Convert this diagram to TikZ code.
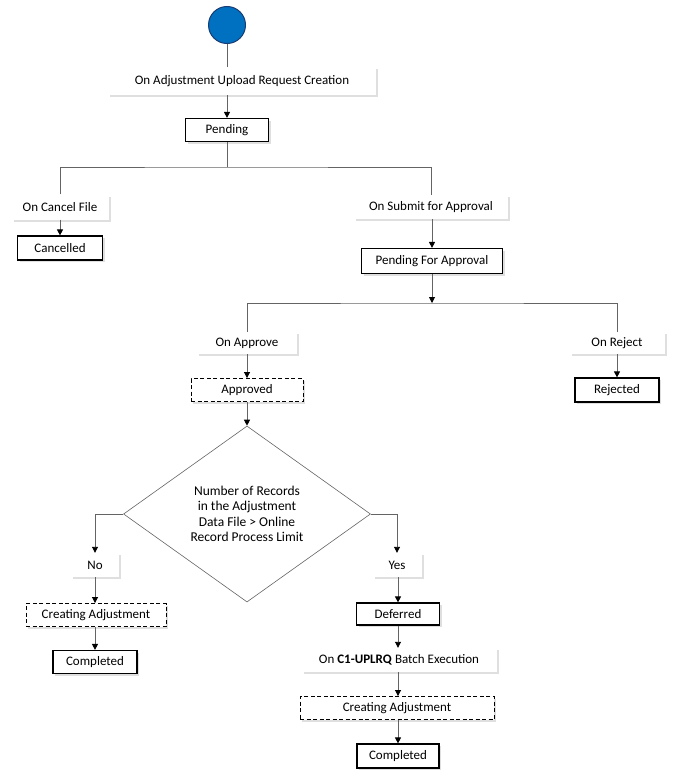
\documentclass[tikz,border=0pt]{standalone}
\usepackage{fontspec}
\setmainfont{Carlito}
\usetikzlibrary{arrows.meta,positioning,calc,shapes.geometric,shadows}
\definecolor{StartBlue}{RGB}{0,112,192}
\definecolor{StartEdge}{RGB}{25,60,115}
\definecolor{FlowGray}{RGB}{100,100,100}
\tikzset{
  basefont/.style={font=\fontsize{13}{15}\selectfont},
  softshadow/.style={drop shadow={shadow xshift=2pt,shadow yshift=-2pt,fill=black!25,opacity=0.5}},
  eventbox/.style={basefont,fill=white,draw=none,inner sep=0pt,softshadow},
  statebox/.style={basefont,fill=white,draw=black,line width=1.2pt,inner sep=0pt,softshadow},
  dashbox/.style={statebox,line width=0.9pt,dash pattern=on 4pt off 2.5pt},
  decision/.style={diamond,draw=FlowGray,line width=0.6pt,inner sep=0pt,align=center,
    font=\fontsize{13.5}{15.5}\selectfont},
  flow/.style={draw=FlowGray,line width=0.9pt},
  flowarr/.style={flow,-{Triangle[length=6pt,width=6pt,color=black,fill=black]}}
}
\begin{document}
\begin{tikzpicture}[x=1pt,y=-1pt]
  \useasboundingbox (0,0) rectangle (682,779);
  \node[circle,fill=StartBlue,draw=StartEdge,line width=1pt,minimum size=37pt,inner sep=0pt] (start) at (227,25) {};
  \node[eventbox,minimum width=268pt,minimum height=28pt] (creation) at (242,81) {On Adjustment Upload Request Creation};
  \node[statebox,minimum width=83pt,minimum height=23pt] (pending) at (227,130) {Pending};
  \coordinate (j1) at (227,167);
  \node[eventbox,minimum width=97pt,minimum height=25pt] (cancelfile) at (60,207) {On Cancel File};
  \node[statebox,minimum width=85pt,minimum height=24pt] (cancelled) at (60,248) {Cancelled};
  \node[eventbox,minimum width=154pt,minimum height=24pt] (submit) at (431,207) {On Submit for Approval};
  \node[statebox,minimum width=141pt,minimum height=25pt] (pfa) at (432,261) {Pending For Approval};
  \coordinate (j2) at (432,303);
  \node[eventbox,minimum width=100pt,minimum height=22pt] (approve) at (247,343) {On Approve};
  \node[dashbox,minimum width=112pt,minimum height=23pt] (approved) at (247,390) {Approved};
  \node[eventbox,minimum width=95pt,minimum height=22pt] (reject) at (617,343) {On Reject};
  \node[statebox,minimum width=84pt,minimum height=24pt] (rejected) at (617,390) {Rejected};
  \node[decision,minimum width=247pt,minimum height=176pt] (cond) at (247,514)
    {Number of Records\\in the Adjustment\\Data File > Online\\Record Process Limit};
  \node[eventbox,minimum width=48pt,minimum height=24pt] (no) at (95,565) {No};
  \node[eventbox,minimum width=49pt,minimum height=24pt] (yes) at (397,565) {Yes};
  \node[dashbox,minimum width=140pt,minimum height=23pt] (create1) at (96,615) {Creating Adjustment};
  \node[statebox,minimum width=84pt,minimum height=23pt] (completed1) at (95,662) {Completed};
  \node[statebox,minimum width=83pt,minimum height=22pt] (deferred) at (398,614) {Deferred};
  \node[eventbox,minimum width=195pt,minimum height=24pt] (batch) at (399,660) {On \textbf{C1-UPLRQ} Batch Execution};
  \node[dashbox,minimum width=194pt,minimum height=23pt] (create2) at (397,708) {Creating Adjustment};
  \node[statebox,minimum width=82pt,minimum height=24pt] (completed2) at (398,756) {Completed};
  \draw[flow] (start) -- (start |- creation.north);
  \draw[flowarr] (creation.south -| pending) -- (pending.north);
  \draw[flow] (pending.south) -- (j1);
  \draw[flow] (cancelfile.north) |- (j1) -| (submit.north);
  \draw[flowarr] (cancelfile.south) -- (cancelled.north);
  \draw[flowarr] (submit.south -| pfa) -- (pfa.north);
  \draw[flowarr] (pfa.south) -- (j2);
  \draw[flow] (approve.north) |- (j2) -| (reject.north);
  \draw[flowarr] (approve.south) -- (approved.north);
  \draw[flowarr] (reject.south) -- (rejected.north);
  \draw[flowarr] (approved.south) -- (cond.north);
  \draw[flowarr] (cond.west) -| (no.north);
  \draw[flowarr] (cond.east) -| (yes.north);
  \draw[flowarr] (no.south) -- (no.south |- create1.north);
  \draw[flowarr] (create1.south -| completed1) -- (completed1.north);
  \draw[flowarr] (yes.south -| deferred) -- (deferred.north);
  \draw[flowarr] (deferred.south) -- (deferred.south |- batch.north);
  \draw[flowarr] (batch.south -| deferred) -- (deferred |- create2.north);
  \draw[flowarr] (create2.south -| deferred) -- (completed2.north);
\end{tikzpicture}
\end{document}
